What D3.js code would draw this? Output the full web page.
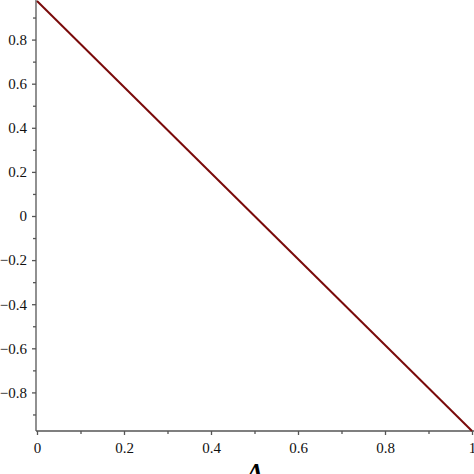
<!DOCTYPE html>
<html>
<head>
<meta charset="utf-8">
<script src="https://cdn.jsdelivr.net/npm/d3@7"></script>
<style>
  body { margin: 0; background: #fff; }
  svg { display: block; }
</style>
</head>
<body>
<div class="canvas"></div>
<script>
// line end points
const xs = [0, 1]
const ys = [0.975, -0.975]
const xTicks = [0, 0.2, 0.4, 0.6, 0.8, 1]
const yTicks = [-0.8, -0.6, -0.4, -0.2, 0, 0.2, 0.4, 0.6, 0.8]
const xMinor = [0.1, 0.3, 0.5, 0.7, 0.9]
const yMinor = [-0.9, -0.7, -0.5, -0.3, -0.1, 0.1, 0.3, 0.5, 0.7, 0.9]

const dims = { width: 474, height: 474 }
const plot = { left: 37, right: 472, top: 1, bottom: 431 }

const svg = d3.select('.canvas')
  .append('svg')
  .attr('width', dims.width)
  .attr('height', dims.height)

const x = d3.scaleLinear().domain([0, 1]).range([plot.left, plot.right])
const y = d3.scaleLinear().domain([-0.975, 0.975]).range([plot.bottom, plot.top])

const fmt = d => d === 0 ? '0' : d === 1 ? '1' : d3.format('.1f')(d).replace('-', '\u2212')

// minor ticks first
const xMinorAxis = d3.axisBottom(x).tickValues(xMinor).tickSize(3).tickFormat('')
const yMinorAxis = d3.axisLeft(y).tickValues(yMinor).tickSize(3).tickFormat('')

svg.append('g')
  .attr('transform', `translate(0,${plot.bottom})`)
  .call(xMinorAxis)
  .call(g => g.select('.domain').remove())

svg.append('g')
  .attr('transform', `translate(${plot.left - 1},0)`)
  .call(yMinorAxis)
  .call(g => g.select('.domain').remove())

const xAxis = d3.axisBottom(x).tickValues(xTicks).tickSize(4).tickSizeOuter(0).tickPadding(7).tickFormat(fmt)
const yAxis = d3.axisLeft(y).tickValues(yTicks).tickSize(4).tickSizeOuter(0).tickPadding(5).tickFormat(fmt)

const gx = svg.append('g')
  .attr('transform', `translate(0,${plot.bottom})`)
  .call(xAxis)

const gy = svg.append('g')
  .attr('transform', `translate(${plot.left - 1},0)`)
  .call(yAxis)

svg.selectAll('.domain, .tick line').attr('stroke', '#555').attr('stroke-width', 1.3)
gx.select('.domain').attr('d', `M${plot.left - 1},0H${dims.width}`)
gy.select('.domain').attr('d', `M0,0V${plot.bottom}`)
svg.selectAll('.tick text')
  .style('font-family', '"Liberation Serif", "DejaVu Serif", serif')
  .style('font-size', '15px')
  .attr('fill', '#111')

const line = d3.line()
  .x(d => x(d[0]))
  .y(d => y(d[1]))

svg.append('path')
  .datum(xs.map((v, i) => [v, ys[i]]))
  .attr('d', line)
  .attr('fill', 'none')
  .attr('stroke', '#7a0a0a')
  .attr('stroke-width', 2)

svg.append('text')
  .attr('x', 255)
  .attr('y', 481)
  .attr('text-anchor', 'middle')
  .style('font-family', '"Liberation Serif", serif')
  .style('font-weight', 'bold')
  .style('font-style', 'italic')
  .style('font-size', '26px')
  .attr('fill', '#000')
  .text('A')
</script>
</body>
</html>
